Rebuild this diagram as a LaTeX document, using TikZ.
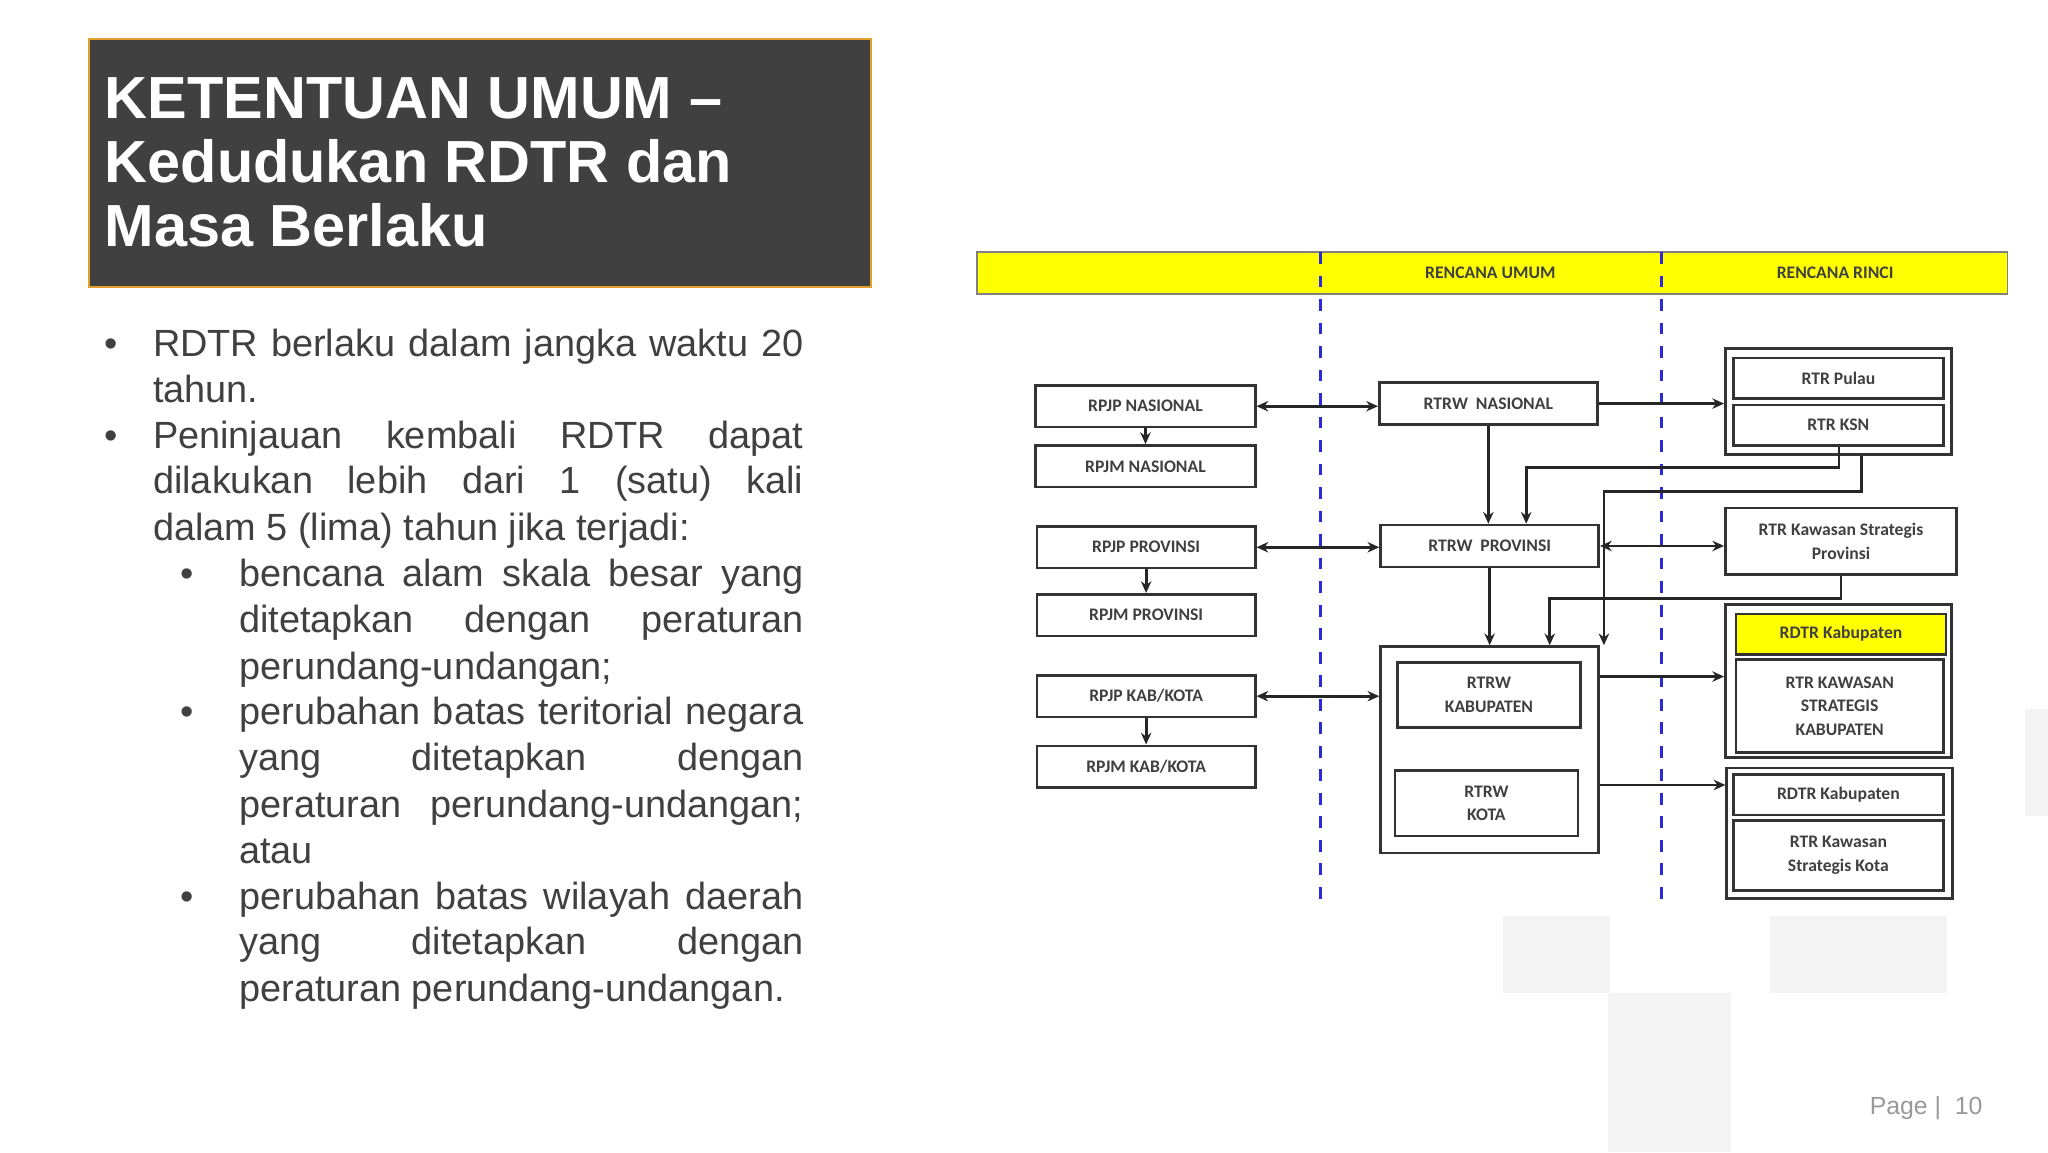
\documentclass[tikz,border=0pt]{standalone}
\usepackage{fontspec}
\setmainfont{Liberation Sans}
\newfontfamily\diagfont{Carlito}
\usetikzlibrary{arrows.meta}
\definecolor{titlegray}{HTML}{404040}
\definecolor{titleedge}{HTML}{E0A030}
\definecolor{bodygray}{HTML}{404040}
\definecolor{dashblue}{HTML}{2A2AD8}
\definecolor{bandyellow}{HTML}{FFFF00}
\definecolor{decogray}{HTML}{F3F3F3}
\newcommand{\jl}[2]{\hbox to #1bp{\spaceskip=.2em plus 1fil\relax #2}}
\newcommand{\bx}[7][]{\node[box,#1,minimum width={(#5-#3)*1bp},minimum height={(#6-#4)*1bp}] (#2) at ({(#3+#5)/2},{(#4+#6)/2}) {#7};}
\tikzset{
  box/.style={draw=black!80, line width=2bp, fill=white, font=\diagfont\bfseries\fontsize{13.5bp}{18bp}\selectfont, text=black!75, align=center, inner sep=0},
  arr/.style={line width=2.2bp, draw=black!85, -{Stealth[length=9bp,width=8bp]}},
  darr/.style={line width=2.2bp, draw=black!85, {Stealth[length=9bp,width=8bp]}-{Stealth[length=9bp,width=8bp]}},
  bodytxt/.style={anchor=base west, inner sep=0, text=bodygray, font=\fontsize{29bp}{35bp}\selectfont},
  vdash/.style={draw=dashblue, line width=2.4bp, dash pattern=on 9bp off 9bp}
}
\begin{document}
\begin{tikzpicture}[x=1bp,y=-1bp]
\useasboundingbox (0,0) rectangle (1568,882);
% decorative squares
\fill[decogray] (1151,701) rectangle (1233,760);
\fill[decogray] (1231,760) rectangle (1325,882);
\fill[decogray] (1355,701) rectangle (1491,760);
\fill[decogray] (1550,543) rectangle (1568,625);
% title
\node[draw=titleedge, line width=1.5bp, fill=titlegray, minimum width=599bp, minimum height=190bp, inner sep=0] (title) at (367.5,125) {};
\node[anchor=north west, inner sep=0, text=white, align=left, font=\bfseries\fontsize{45.5bp}{49bp}\selectfont] (ttext) at (80,59) {KETENTUAN UMUM --\\Kedudukan RDTR dan\\Masa Berlaku};
% bullets
\node[bodytxt] (b1) at (80,273) {•};
\node[bodytxt] (l1) at (117,273) {\jl{498}{RDTR berlaku dalam jangka waktu 20}};
\node[bodytxt] (l2) at (117,308) {tahun.};
\node[bodytxt] (b2) at (80,343) {•};
\node[bodytxt] (l3) at (117,343) {\jl{498}{Peninjauan kembali RDTR dapat}};
\node[bodytxt] (l4) at (117,378) {\jl{498}{dilakukan lebih dari 1 (satu) kali}};
\node[bodytxt] (l5) at (117,414) {dalam 5 (lima) tahun jika terjadi:};
\node[bodytxt] (b3) at (138,449) {•};
\node[bodytxt] (l6) at (183,449) {\jl{432}{bencana alam skala besar yang}};
\node[bodytxt] (l7) at (183,484) {\jl{432}{ditetapkan dengan peraturan}};
\node[bodytxt] (l8) at (183,520) {perundang-undangan;};
\node[bodytxt] (b4) at (138,555) {•};
\node[bodytxt] (l9) at (183,555) {\jl{432}{perubahan batas teritorial negara}};
\node[bodytxt] (l10) at (183,590) {\jl{432}{yang ditetapkan dengan}};
\node[bodytxt] (l11) at (183,626) {\jl{432}{peraturan perundang-undangan;}};
\node[bodytxt] (l12) at (183,661) {atau};
\node[bodytxt] (b5) at (138,696) {•};
\node[bodytxt] (l13) at (183,696) {\jl{432}{perubahan batas wilayah daerah}};
\node[bodytxt] (l14) at (183,731) {\jl{432}{yang ditetapkan dengan}};
\node[bodytxt] (l15) at (183,767) {peraturan perundang-undangan.};
% page
\node[anchor=base east, inner sep=0, text=black!40, font=\fontsize{19bp}{22bp}\selectfont] (page) at (1518,853) {Page |\ \ 10};
% band
\node[draw=black!50, line width=1bp, fill=bandyellow, minimum width=789bp, minimum height=32bp, inner sep=0] (band) at (1142.5,209) {};
\node[font=\diagfont\bfseries\fontsize{13.5bp}{15bp}\selectfont, text=black!75] (ru) at (1141,209) {RENCANA UMUM};
\node[font=\diagfont\bfseries\fontsize{13.5bp}{15bp}\selectfont, text=black!75] (rr) at (1405,209) {RENCANA RINCI};
\coordinate (d1t) at (1011,193); \coordinate (d1b) at (1011,692);
\coordinate (d2t) at (1272,193); \coordinate (d2b) at (1272,692);
\draw[vdash] (d1t) -- (d1b);
\draw[vdash] (d2t) -- (d2b);
% left boxes
\bx{rpjpn}{793}{295}{961}{327}{RPJP NASIONAL}
\bx{rpjmn}{793}{341}{961}{373}{RPJM NASIONAL}
\bx{rpjpp}{794}{403}{961}{435}{RPJP PROVINSI}
\bx{rpjmp}{794}{455}{961}{487}{RPJM PROVINSI}
\bx{rpjpk}{794}{517}{961}{549}{RPJP KAB/KOTA}
\bx{rpjmk}{794}{571}{961}{603}{RPJM KAB/KOTA}
% middle
\bx{rtrwn}{1056}{293}{1223}{325}{RTRW\ \ NASIONAL}
\bx{rtrwp}{1057}{402}{1224}{434}{RTRW\ \ PROVINSI}
\bx{cont}{1057}{495}{1224}{653}{}
\bx{rtrwk}{1070}{507}{1210}{557}{RTRW\\KABUPATEN}
\bx{rtrwkota}{1068}{590}{1208}{640}{RTRW\\KOTA}
% right
\bx{o1}{1321}{267}{1494}{348}{}
\bx{pulau}{1327}{274}{1488}{305}{RTR Pulau}
\bx{ksn}{1327}{310}{1488}{341}{RTR KSN}
\bx{ksp}{1321}{389}{1498}{440}{RTR Kawasan Strategis\\Provinsi}
\bx{o2}{1321}{463}{1494}{580}{}
\bx[fill=bandyellow]{rdtrk1}{1329}{470}{1490}{501}{RDTR Kabupaten}
\bx{rtrksk}{1329}{505}{1488}{576}{RTR KAWASAN\\STRATEGIS\\KABUPATEN}
\bx{o3}{1322}{588}{1495}{688}{}
\bx{rdtrk2}{1327}{593}{1488}{624}{RDTR Kabupaten}
\bx{rtrksko}{1327}{628}{1488}{682}{RTR Kawasan\\Strategis Kota}
% connectors
\draw[darr] (rpjpn.east) -- (rpjpn.east -| rtrwn.west);
\draw[arr] (rtrwn.east) -- (rtrwn.east -| o1.west);
\draw[arr] (rpjpn.south) -- (rpjmn.north);
\draw[arr] (rtrwn.south) -- (rtrwn.south |- rtrwp.north);
\draw[arr] (ksn.south -| 1408,0) -- (1408,358) -| ([xshift=28bp]rtrwp.north);
\draw[arr] (o1.south -| 1425,0) -- (1425,376) -| (cont.north east -| 1228,0);
\draw[darr] (rpjpp.east) -- (rpjpp.east -| rtrwp.west);
\draw[darr] (rtrwp.east) -- (rtrwp.east -| ksp.west);
\draw[arr] (rpjpp.south) -- (rpjmp.north);
\draw[arr] (rtrwp.south) -- (rtrwp.south |- cont.north);
\draw[arr] (ksp.south) -- ++(0,17) -| ([xshift=46bp]cont.north);
\draw[darr] (rpjpk.east) -- (rpjpk.east -| cont.west);
\draw[arr] (rpjpk.south) -- (rpjmk.north);
\draw[arr] ([yshift=-24bp]cont.north east) -- ([yshift=-24bp]cont.north east -| o2.west);
\draw[arr] ([yshift=-107bp]cont.north east) -- ([yshift=-107bp]cont.north east -| o3.west);
\end{tikzpicture}
\end{document}
